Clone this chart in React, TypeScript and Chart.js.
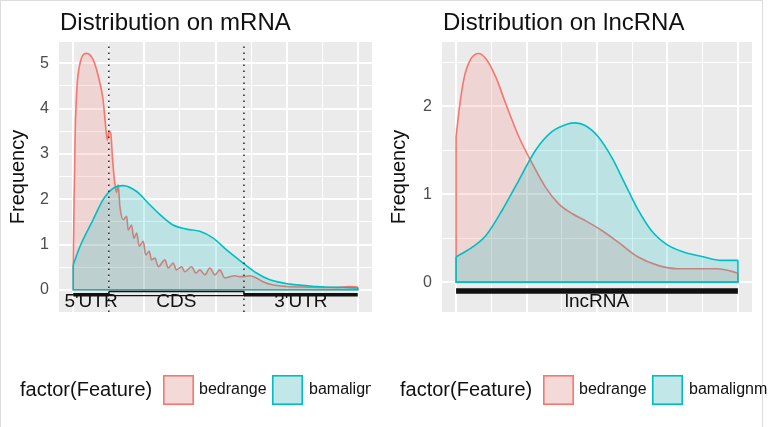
import { useEffect, useRef } from "react";
import { Chart, registerables } from "chart.js";

Chart.register(...registerables);

const FONT = '"Liberation Sans", Arial, Helvetica, sans-serif';
Chart.defaults.font.family = FONT;

const RED = "#F8766D";
const TEAL = "#00BFC4";
const RED_FILL = "rgba(248, 118, 109, 0.2)";
const TEAL_FILL = "rgba(0, 191, 196, 0.2)";

// ---- mRNA panel ----
const mrnaBedX = [0, 0.003, 0.007, 0.013, 0.024, 0.047, 0.07, 0.094, 0.105, 0.114, 0.12, 0.126, 0.132, 0.138, 0.146, 0.152, 0.158, 0.164, 0.176, 0.188, 0.193, 0.205, 0.213, 0.223, 0.232, 0.246, 0.255, 0.267, 0.275, 0.287, 0.299, 0.322, 0.334, 0.351, 0.363, 0.381, 0.392, 0.416, 0.431, 0.445, 0.463, 0.48, 0.498, 0.515, 0.533, 0.55, 0.568, 0.585, 0.6, 0.62, 0.644, 0.667, 0.7, 0.75, 0.83, 0.925, 0.97, 1.0];
const mrnaBedY = [0.5, 2.0, 3.5, 4.45, 5.0, 5.22, 5.08, 4.56, 4.19, 3.6, 3.3, 3.5, 3.45, 2.9, 2.36, 2.15, 2.32, 1.84, 1.55, 1.62, 1.32, 1.43, 1.14, 1.25, 0.96, 1.07, 0.77, 0.85, 0.66, 0.7, 0.51, 0.66, 0.48, 0.59, 0.44, 0.51, 0.4, 0.51, 0.37, 0.44, 0.33, 0.48, 0.33, 0.44, 0.26, 0.29, 0.31, 0.29, 0.29, 0.31, 0.26, 0.18, 0.11, 0.074, 0.06, 0.05, 0.07, 0.06];
const mrnaBamX = [0, 0.024, 0.07, 0.105, 0.14, 0.176, 0.223, 0.258, 0.305, 0.351, 0.398, 0.445, 0.492, 0.539, 0.597, 0.644, 0.691, 0.761, 0.855, 0.948, 1.0];
const mrnaBamY = [0.55, 0.96, 1.55, 1.99, 2.24, 2.3, 2.17, 1.95, 1.66, 1.43, 1.34, 1.29, 1.14, 0.88, 0.59, 0.37, 0.22, 0.125, 0.074, 0.05, 0.04];
const mrnaRegionNames = ["5'UTR", "CDS", "3'UTR"];
const mrnaRegionStart = [0, 0.125, 0.6];
const mrnaRegionEnd = [0.125, 0.6, 1];
const mrnaRegionIsCds = [false, true, false];

// ---- lncRNA panel ----
const lncBedX = [0, 0.012, 0.029, 0.053, 0.08, 0.106, 0.141, 0.176, 0.223, 0.27, 0.317, 0.364, 0.411, 0.458, 0.516, 0.575, 0.646, 0.716, 0.786, 0.857, 0.927, 0.974, 1.0];
const lncBedY = [1.65, 1.99, 2.33, 2.54, 2.6, 2.54, 2.33, 2.03, 1.65, 1.35, 1.08, 0.89, 0.78, 0.7, 0.59, 0.455, 0.285, 0.19, 0.152, 0.152, 0.152, 0.125, 0.1];
const lncBamX = [0, 0.059, 0.106, 0.164, 0.223, 0.282, 0.34, 0.393, 0.423, 0.458, 0.505, 0.552, 0.599, 0.646, 0.692, 0.751, 0.81, 0.88, 0.939, 1.0];
const lncBamY = [0.285, 0.4, 0.53, 0.82, 1.16, 1.5, 1.71, 1.795, 1.81, 1.78, 1.65, 1.42, 1.12, 0.82, 0.59, 0.42, 0.34, 0.285, 0.247, 0.247];
const lncRegionNames = ["lncRNA"];
const lncRegionStart = [0];
const lncRegionEnd = [1];
const lncRegionIsCds = [false];

const legendTitle = "factor(Feature)";
const legendLabels = ["bedrange", "bamalignment"];

const toPts = (xs: number[], ys: number[]) => xs.map((x, i) => ({ x, y: ys[i] }));

type Spec = {
  title: string;
  width: number;
  padLeft: number;
  padRight: number;
  axisWidth: number;
  yTitlePad: number;
  yMin: number;
  yMax: number;
  bedX: number[];
  bedY: number[];
  bamX: number[];
  bamY: number[];
  names: string[];
  starts: number[];
  ends: number[];
  isCds: boolean[];
  barY: number;
  barWidth: number;
  cdsTop: number;
  cdsBottom: number;
  labelY: number;
  legendX: number;
  legendClip: number;
};

function buildConfig(s: Spec): any {
  const datasets: any[] = [];
  const base = { pointRadius: 0, fill: false, tension: 0 };

  // gene structure
  s.names.forEach((_, i) => {
    if (s.isCds[i]) {
      datasets.push({
        ...base,
        order: 0,
        borderColor: "#111",
        borderWidth: 1.3,
        data: [
          { x: s.starts[i], y: s.cdsTop },
          { x: s.ends[i], y: s.cdsTop },
          { x: s.ends[i], y: s.cdsBottom },
          { x: s.starts[i], y: s.cdsBottom },
          { x: s.starts[i], y: s.cdsTop },
        ],
      });
    } else {
      datasets.push({
        ...base,
        order: 0,
        borderColor: "#111",
        borderWidth: s.barWidth,
        borderCapStyle: "butt",
        data: [
          { x: s.starts[i], y: s.barY },
          { x: s.ends[i], y: s.barY },
        ],
      });
    }
  });

  // dotted region boundaries
  s.starts.slice(1).forEach((b) => {
    datasets.push({
      ...base,
      order: 1,
      borderColor: "#333",
      borderWidth: 1.6,
      borderDash: [1.6, 4.4],
      data: [
        { x: b, y: s.yMin },
        { x: b, y: s.yMax },
      ],
    });
  });

  const curves = [
    { xs: s.bamX, ys: s.bamY, line: TEAL, fillc: TEAL_FILL, o: 2 },
    { xs: s.bedX, ys: s.bedY, line: RED, fillc: RED_FILL, o: 4 },
  ];
  curves.forEach((c) => {
    const n = c.xs.length - 1;
    // polygon edges: left side, baseline, right side
    datasets.push({
      ...base,
      order: c.o,
      borderColor: c.line,
      borderWidth: 1.6,
      data: [
        { x: c.xs[0], y: c.ys[0] },
        { x: c.xs[0], y: 0 },
        { x: c.xs[n], y: 0 },
        { x: c.xs[n], y: c.ys[n] },
      ],
    });
    datasets.push({
      order: c.o + 1,
      pointRadius: 0,
      borderColor: c.line,
      borderWidth: 1.6,
      backgroundColor: c.fillc,
      fill: "origin",
      cubicInterpolationMode: "monotone",
      data: toPts(c.xs, c.ys),
    });
  });

  const gridWidth = (major: (v: number) => boolean) => (ctx: any) =>
    major(ctx.tick?.value ?? 0) ? 2 : 1;
  const isMult = (v: number, m: number) => Math.abs(v / m - Math.round(v / m)) < 1e-6;

  const panelPlugin = {
    id: "panelDeco",
    beforeDraw(chart: any) {
      const { ctx, chartArea: a } = chart;
      ctx.save();
      ctx.fillStyle = "#EBEBEB";
      ctx.fillRect(a.left, a.top, a.right - a.left, a.bottom - a.top);
      ctx.restore();
    },
    afterDraw(chart: any) {
      const { ctx, chartArea: a } = chart;
      const xs = chart.scales.x;
      const ys = chart.scales.y;
      ctx.save();
      // title
      ctx.fillStyle = "#111";
      ctx.font = `24px ${FONT}`;
      ctx.textAlign = "left";
      ctx.textBaseline = "alphabetic";
      ctx.fillText(s.title, a.left + 1, 30);
      // region labels
      ctx.font = `19px ${FONT}`;
      ctx.textAlign = "center";
      ctx.textBaseline = "middle";
      s.names.forEach((name, i) => {
        const cx = xs.getPixelForValue((s.starts[i] + s.ends[i]) / 2);
        ctx.fillText(name, cx, ys.getPixelForValue(s.labelY));
      });
      // legend
      ctx.beginPath();
      ctx.rect(0, 330, s.legendClip, 97);
      ctx.clip();
      const lx = s.legendX;
      const ly = 390;
      ctx.textAlign = "left";
      ctx.font = `20px ${FONT}`;
      ctx.fillStyle = "#111";
      ctx.fillText(legendTitle, lx, ly);
      const keys = [
        { dx: 143, tx: 179, line: RED, fillc: RED_FILL, label: legendLabels[0] },
        { dx: 252, tx: 289, line: TEAL, fillc: TEAL_FILL, label: legendLabels[1] },
      ];
      keys.forEach((k) => {
        ctx.fillStyle = "#F2F2F2";
        ctx.fillRect(lx + k.dx, ly - 15, 31, 30);
        ctx.fillStyle = k.fillc;
        ctx.fillRect(lx + k.dx, ly - 15, 31, 30);
        ctx.strokeStyle = k.line;
        ctx.lineWidth = 1.6;
        ctx.strokeRect(lx + k.dx + 0.8, ly - 14.2, 29.4, 28.4);
        ctx.fillStyle = "#111";
        ctx.font = `16px ${FONT}`;
        ctx.fillText(k.label, lx + k.tx, ly);
      });
      ctx.restore();
    },
  };

  return {
    type: "line",
    data: { datasets },
    plugins: [panelPlugin],
    options: {
      animation: false,
      responsive: false,
      events: [],
      layout: { padding: { left: s.padLeft, right: s.padRight, top: 42, bottom: 0 } },
      plugins: { legend: { display: false }, tooltip: { enabled: false }, title: { display: false } },
      scales: {
        x: {
          type: "linear",
          min: -0.05,
          max: 1.05,
          border: { display: false },
          grid: {
            color: "#FFFFFF",
            drawTicks: false,
            lineWidth: gridWidth((v) => isMult(v, 0.25)),
          },
          ticks: { display: false, stepSize: 0.125, includeBounds: false },
          afterFit: (sc: any) => {
            sc.height = 115;
          },
        },
        y: {
          type: "linear",
          min: s.yMin,
          max: s.yMax,
          border: { display: false },
          grid: {
            color: "#FFFFFF",
            drawTicks: false,
            lineWidth: gridWidth((v) => isMult(v, 1)),
          },
          ticks: {
            stepSize: 0.5,
            includeBounds: false,
            autoSkip: false,
            padding: 10,
            color: "#4D4D4D",
            font: { size: 16 },
            callback: (v: any) => (isMult(Number(v), 1) ? String(Math.round(Number(v))) : ""),
          },
          title: {
            display: true,
            text: "Frequency",
            color: "#111",
            font: { size: 20 },
            padding: { top: s.yTitlePad, bottom: 0 },
          },
          afterFit: (sc: any) => {
            sc.width = s.axisWidth;
          },
        },
      },
    },
  };
}

function DensityPanel({ spec }: { spec: Spec }) {
  const canvasRef = useRef<HTMLCanvasElement | null>(null);

  useEffect(() => {
    const canvas = canvasRef.current;
    if (!canvas) return;
    const chart = new Chart(canvas, buildConfig(spec));
    return () => {
      chart.destroy();
    };
  }, [spec]);

  return (
    <canvas
      ref={canvasRef}
      width={spec.width}
      height={427}
      style={{ position: "absolute", left: 0, top: 0, width: spec.width, height: 427, display: "block" }}
    />
  );
}

const mrnaSpec: Spec = {
  title: "Distribution on mRNA",
  width: 384,
  padLeft: 0,
  padRight: 12,
  axisWidth: 59,
  yTitlePad: 6,
  yMin: -0.49,
  yMax: 5.47,
  bedX: mrnaBedX,
  bedY: mrnaBedY,
  bamX: mrnaBamX,
  bamY: mrnaBamY,
  names: mrnaRegionNames,
  starts: mrnaRegionStart,
  ends: mrnaRegionEnd,
  isCds: mrnaRegionIsCds,
  barY: -0.11,
  barWidth: 3.5,
  cdsTop: -0.037,
  cdsBottom: -0.13,
  labelY: -0.26,
  legendX: 20,
  legendClip: 371,
};

const lncSpec: Spec = {
  title: "Distribution on lncRNA",
  width: 768,
  padLeft: 384,
  padRight: 16,
  axisWidth: 58,
  yTitlePad: 3,
  yMin: -0.34,
  yMax: 2.73,
  bedX: lncBedX,
  bedY: lncBedY,
  bamX: lncBamX,
  bamY: lncBamY,
  names: lncRegionNames,
  starts: lncRegionStart,
  ends: lncRegionEnd,
  isCds: lncRegionIsCds,
  barY: -0.1,
  barWidth: 5.5,
  cdsTop: 0,
  cdsBottom: 0,
  labelY: -0.22,
  legendX: 400,
  legendClip: 768,
};

export default function App() {
  return (
    <div style={{ position: "absolute", left: 0, top: 0, width: 768, height: 427, background: "#fff", overflow: "hidden" }}>
      <div
        style={{
          position: "absolute",
          left: 0,
          top: 0,
          width: 763,
          height: 427,
          boxSizing: "border-box",
          borderTop: "1px solid #dcdcdc",
          borderLeft: "1px solid #dcdcdc",
          borderRight: "1px solid #dcdcdc",
        }}
      />
      <DensityPanel spec={mrnaSpec} />
      <DensityPanel spec={lncSpec} />
    </div>
  );
}
